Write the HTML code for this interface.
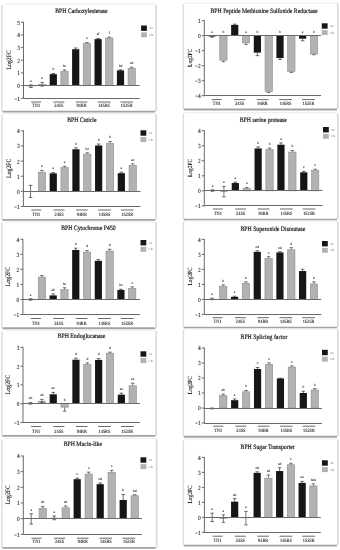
<!DOCTYPE html>
<html><head><meta charset="utf-8"><title>BPH gene expression</title>
<style>text{stroke:#1a1a1a;stroke-width:0.1}text.t{stroke-width:0.2}text.g{fill:#555;stroke:none}text.l{fill:#3a3a3a;stroke:#3a3a3a;stroke-width:0.08}html,body{margin:0;padding:0;background:#fff;width:340px;height:550px;overflow:hidden}svg{display:block}text{text-rendering:geometricPrecision}</style>
</head><body>
<svg width="340" height="550" viewBox="0 0 340 550" font-family="'Liberation Serif', 'DejaVu Serif', serif" fill="#1a1a1a">
<rect width="340" height="550" fill="#fff"/>
<rect x="1.9" y="4.2" width="154.3" height="107.4" fill="#fff"/>
<line x1="1.9" y1="5.2" x2="1.9" y2="111.1" stroke="#e0e0e0" stroke-width="1.6"/>
<line x1="3.4" y1="4.2" x2="155.2" y2="4.2" stroke="#efefef" stroke-width="1.3"/>
<line x1="156.2" y1="4.7" x2="156.2" y2="111.1" stroke="#d8d8d8" stroke-width="1.6"/>
<line x1="2.4" y1="111.6" x2="155.4" y2="111.6" stroke="#a3a3a3" stroke-width="1.9"/>
<line x1="23.5" y1="21.8" x2="23.5" y2="98.7" stroke="#6a6a6a" stroke-width="1"/>
<line x1="20.9" y1="98.2" x2="23.5" y2="98.2" stroke="#6a6a6a" stroke-width="1"/>
<text transform="translate(19.9,100.65) scale(0.8696,1)" font-size="6.21" text-anchor="end">−1</text>
<line x1="20.9" y1="85.55" x2="23.5" y2="85.55" stroke="#6a6a6a" stroke-width="1"/>
<text transform="translate(19.9,88) scale(0.8696,1)" font-size="6.21" text-anchor="end">0</text>
<line x1="20.9" y1="72.9" x2="23.5" y2="72.9" stroke="#6a6a6a" stroke-width="1"/>
<text transform="translate(19.9,75.35) scale(0.8696,1)" font-size="6.21" text-anchor="end">1</text>
<line x1="20.9" y1="60.25" x2="23.5" y2="60.25" stroke="#6a6a6a" stroke-width="1"/>
<text transform="translate(19.9,62.7) scale(0.8696,1)" font-size="6.21" text-anchor="end">2</text>
<line x1="20.9" y1="47.6" x2="23.5" y2="47.6" stroke="#6a6a6a" stroke-width="1"/>
<text transform="translate(19.9,50.05) scale(0.8696,1)" font-size="6.21" text-anchor="end">3</text>
<line x1="20.9" y1="34.95" x2="23.5" y2="34.95" stroke="#6a6a6a" stroke-width="1"/>
<text transform="translate(19.9,37.4) scale(0.8696,1)" font-size="6.21" text-anchor="end">4</text>
<line x1="20.9" y1="22.3" x2="23.5" y2="22.3" stroke="#6a6a6a" stroke-width="1"/>
<text transform="translate(19.9,24.75) scale(0.8696,1)" font-size="6.21" text-anchor="end">5</text>
<text transform="translate(10.6,59.85) rotate(-90) scale(0.8696,1)" font-size="6.73" text-anchor="middle">Log2FC</text>
<line x1="23.5" y1="98.5" x2="139.6" y2="98.5" stroke="#6a6a6a" stroke-width="1"/>
<rect x="27.3" y="85.55" width="7.2" height="0.63" fill="#161616"/>
<line x1="30.9" y1="84.92" x2="30.9" y2="87.45" stroke="#111" stroke-width="0.6"/>
<line x1="29.1" y1="87.45" x2="32.7" y2="87.45" stroke="#111" stroke-width="0.6"/>
<line x1="29.1" y1="84.92" x2="32.7" y2="84.92" stroke="#111" stroke-width="0.6"/>
<text x="30.9" y="81.82" font-size="3.7" text-anchor="middle" class="l">a</text>
<rect x="38.45" y="84.58" width="7.3" height="0.97" fill="#b2b2b2" stroke="#8c8c8c" stroke-width="0.6"/>
<line x1="42.1" y1="82.39" x2="42.1" y2="86.18" stroke="#222" stroke-width="0.6"/>
<line x1="40.3" y1="82.39" x2="43.9" y2="82.39" stroke="#222" stroke-width="0.6"/>
<line x1="40.3" y1="86.18" x2="43.9" y2="86.18" stroke="#222" stroke-width="0.6"/>
<text x="42.1" y="79.29" font-size="3.7" text-anchor="middle" class="l">a</text>
<rect x="49.7" y="74.16" width="7.2" height="11.39" fill="#161616"/>
<line x1="53.3" y1="73.53" x2="53.3" y2="74.16" stroke="#111" stroke-width="0.6"/>
<line x1="51.5" y1="73.53" x2="55.1" y2="73.53" stroke="#111" stroke-width="0.6"/>
<text x="53.3" y="70.43" font-size="3.7" text-anchor="middle" class="l">b</text>
<rect x="60.85" y="71.18" width="7.3" height="14.37" fill="#b2b2b2" stroke="#8c8c8c" stroke-width="0.6"/>
<line x1="64.5" y1="69.86" x2="64.5" y2="70.88" stroke="#222" stroke-width="0.6"/>
<line x1="62.7" y1="69.86" x2="66.3" y2="69.86" stroke="#222" stroke-width="0.6"/>
<text x="64.5" y="66.76" font-size="3.7" text-anchor="middle" class="l">bc</text>
<rect x="72.1" y="49.24" width="7.2" height="36.31" fill="#161616"/>
<line x1="75.7" y1="47.98" x2="75.7" y2="49.24" stroke="#111" stroke-width="0.6"/>
<line x1="73.9" y1="47.98" x2="77.5" y2="47.98" stroke="#111" stroke-width="0.6"/>
<rect x="83.25" y="43.47" width="7.3" height="42.08" fill="#b2b2b2" stroke="#8c8c8c" stroke-width="0.6"/>
<line x1="86.9" y1="42.54" x2="86.9" y2="43.17" stroke="#222" stroke-width="0.6"/>
<line x1="85.1" y1="42.54" x2="88.7" y2="42.54" stroke="#222" stroke-width="0.6"/>
<text x="86.9" y="39.44" font-size="3.7" text-anchor="middle" class="l">e</text>
<rect x="94.5" y="39.12" width="7.2" height="46.43" fill="#161616"/>
<line x1="98.1" y1="38.49" x2="98.1" y2="39.12" stroke="#111" stroke-width="0.6"/>
<line x1="96.3" y1="38.49" x2="99.9" y2="38.49" stroke="#111" stroke-width="0.6"/>
<text x="98.1" y="35.39" font-size="3.7" text-anchor="middle" class="l">ef</text>
<rect x="105.65" y="38.03" width="7.3" height="47.52" fill="#b2b2b2" stroke="#8c8c8c" stroke-width="0.6"/>
<line x1="109.3" y1="37.1" x2="109.3" y2="37.73" stroke="#222" stroke-width="0.6"/>
<line x1="107.5" y1="37.1" x2="111.1" y2="37.1" stroke="#222" stroke-width="0.6"/>
<text x="109.3" y="34" font-size="3.7" text-anchor="middle" class="l">f</text>
<rect x="116.9" y="70.37" width="7.2" height="15.18" fill="#161616"/>
<line x1="120.5" y1="69.74" x2="120.5" y2="70.37" stroke="#111" stroke-width="0.6"/>
<line x1="118.7" y1="69.74" x2="122.3" y2="69.74" stroke="#111" stroke-width="0.6"/>
<text x="120.5" y="66.64" font-size="3.7" text-anchor="middle" class="l">bd</text>
<rect x="128.05" y="68.27" width="7.3" height="17.28" fill="#b2b2b2" stroke="#8c8c8c" stroke-width="0.6"/>
<line x1="131.7" y1="67.21" x2="131.7" y2="67.97" stroke="#222" stroke-width="0.6"/>
<line x1="129.9" y1="67.21" x2="133.5" y2="67.21" stroke="#222" stroke-width="0.6"/>
<text x="131.7" y="64.11" font-size="3.7" text-anchor="middle" class="l">cd</text>
<line x1="23.5" y1="85.5" x2="139.6" y2="85.5" stroke="#6a6a6a" stroke-width="1"/>
<line x1="31.2" y1="102" x2="41.2" y2="102" stroke="#3a3a3a" stroke-width="0.75"/>
<text transform="translate(36.2,106.8) scale(0.8696,1)" font-size="5" text-anchor="middle">TN1</text>
<line x1="53.34" y1="102" x2="64.34" y2="102" stroke="#3a3a3a" stroke-width="0.75"/>
<text transform="translate(58.84,106.8) scale(0.8696,1)" font-size="5" text-anchor="middle">24SS</text>
<line x1="75.68" y1="102" x2="87.28" y2="102" stroke="#3a3a3a" stroke-width="0.75"/>
<text transform="translate(81.48,106.8) scale(0.8696,1)" font-size="5" text-anchor="middle">94RR</text>
<line x1="97.72" y1="102" x2="110.52" y2="102" stroke="#3a3a3a" stroke-width="0.75"/>
<text transform="translate(104.12,106.8) scale(0.8696,1)" font-size="5" text-anchor="middle">145RS</text>
<line x1="120.36" y1="102" x2="133.16" y2="102" stroke="#3a3a3a" stroke-width="0.75"/>
<text transform="translate(126.76,106.8) scale(0.8696,1)" font-size="5" text-anchor="middle">152SR</text>
<rect x="141.1" y="25.5" width="5.8" height="5.4" fill="#161616"/>
<rect x="141.1" y="32.3" width="5.8" height="5" fill="#b2b2b2"/>
<text x="149.1" y="29.2" font-size="3.2" class="g">As</text>
<text x="149.1" y="35.7" font-size="3.2" class="g">Cls</text>
<text transform="translate(55.15,12.5) scale(0.8696,1)" font-size="6.65" class="t">BPH Carboxylesterase</text>
<rect x="183.3" y="3.1" width="154.5" height="106.4" fill="#fff"/>
<line x1="183.3" y1="4.1" x2="183.3" y2="109" stroke="#e0e0e0" stroke-width="1.6"/>
<line x1="184.8" y1="3.1" x2="336.8" y2="3.1" stroke="#efefef" stroke-width="1.3"/>
<line x1="337.8" y1="3.6" x2="337.8" y2="109" stroke="#d8d8d8" stroke-width="1.6"/>
<line x1="183.8" y1="109.5" x2="337" y2="109.5" stroke="#a3a3a3" stroke-width="1.9"/>
<line x1="204.3" y1="20.2" x2="204.3" y2="96.2" stroke="#6a6a6a" stroke-width="1"/>
<line x1="201.7" y1="95.7" x2="204.3" y2="95.7" stroke="#6a6a6a" stroke-width="1"/>
<text transform="translate(200.7,98.15) scale(0.8696,1)" font-size="6.21" text-anchor="end">−4</text>
<line x1="201.7" y1="80.7" x2="204.3" y2="80.7" stroke="#6a6a6a" stroke-width="1"/>
<text transform="translate(200.7,83.15) scale(0.8696,1)" font-size="6.21" text-anchor="end">−3</text>
<line x1="201.7" y1="65.7" x2="204.3" y2="65.7" stroke="#6a6a6a" stroke-width="1"/>
<text transform="translate(200.7,68.15) scale(0.8696,1)" font-size="6.21" text-anchor="end">−2</text>
<line x1="201.7" y1="50.7" x2="204.3" y2="50.7" stroke="#6a6a6a" stroke-width="1"/>
<text transform="translate(200.7,53.15) scale(0.8696,1)" font-size="6.21" text-anchor="end">−1</text>
<line x1="201.7" y1="35.7" x2="204.3" y2="35.7" stroke="#6a6a6a" stroke-width="1"/>
<text transform="translate(200.7,38.15) scale(0.8696,1)" font-size="6.21" text-anchor="end">0</text>
<line x1="201.7" y1="20.7" x2="204.3" y2="20.7" stroke="#6a6a6a" stroke-width="1"/>
<text transform="translate(200.7,23.15) scale(0.8696,1)" font-size="6.21" text-anchor="end">1</text>
<text transform="translate(192.2,57.8) rotate(-90) scale(0.8696,1)" font-size="6.27" text-anchor="middle">Log2FC</text>
<line x1="204.3" y1="95.5" x2="321" y2="95.5" stroke="#6a6a6a" stroke-width="1"/>
<rect x="208.5" y="35.7" width="7.2" height="0.75" fill="#161616"/>
<line x1="212.1" y1="35.7" x2="212.1" y2="37.2" stroke="#111" stroke-width="0.6"/>
<line x1="210.3" y1="37.2" x2="213.9" y2="37.2" stroke="#111" stroke-width="0.6"/>
<line x1="210.3" y1="35.7" x2="213.9" y2="35.7" stroke="#111" stroke-width="0.6"/>
<text x="212.1" y="32.6" font-size="3.7" text-anchor="middle" class="l">a</text>
<rect x="219.77" y="35.7" width="7.3" height="24.45" fill="#b2b2b2" stroke="#8c8c8c" stroke-width="0.6"/>
<line x1="223.42" y1="60.45" x2="223.42" y2="61.65" stroke="#222" stroke-width="0.6"/>
<line x1="221.62" y1="61.65" x2="225.22" y2="61.65" stroke="#222" stroke-width="0.6"/>
<text x="223.42" y="32.6" font-size="3.7" text-anchor="middle" class="l">b</text>
<rect x="231.14" y="24.9" width="7.2" height="10.8" fill="#161616"/>
<line x1="234.74" y1="24.15" x2="234.74" y2="24.9" stroke="#111" stroke-width="0.6"/>
<line x1="232.94" y1="24.15" x2="236.54" y2="24.15" stroke="#111" stroke-width="0.6"/>
<rect x="242.41" y="35.7" width="7.3" height="7.2" fill="#b2b2b2" stroke="#8c8c8c" stroke-width="0.6"/>
<line x1="246.06" y1="43.2" x2="246.06" y2="44.4" stroke="#222" stroke-width="0.6"/>
<line x1="244.26" y1="44.4" x2="247.86" y2="44.4" stroke="#222" stroke-width="0.6"/>
<text x="246.06" y="32.6" font-size="3.7" text-anchor="middle" class="l">a</text>
<rect x="253.78" y="35.7" width="7.2" height="16.95" fill="#161616"/>
<line x1="257.38" y1="52.65" x2="257.38" y2="55.65" stroke="#111" stroke-width="0.6"/>
<line x1="255.58" y1="55.65" x2="259.18" y2="55.65" stroke="#111" stroke-width="0.6"/>
<text x="257.38" y="32.6" font-size="3.7" text-anchor="middle" class="l">b</text>
<rect x="265.05" y="35.7" width="7.3" height="55.8" fill="#b2b2b2" stroke="#8c8c8c" stroke-width="0.6"/>
<line x1="268.7" y1="91.8" x2="268.7" y2="92.55" stroke="#222" stroke-width="0.6"/>
<line x1="266.9" y1="92.55" x2="270.5" y2="92.55" stroke="#222" stroke-width="0.6"/>
<rect x="276.42" y="35.7" width="7.2" height="22.35" fill="#161616"/>
<line x1="280.02" y1="58.05" x2="280.02" y2="59.55" stroke="#111" stroke-width="0.6"/>
<line x1="278.22" y1="59.55" x2="281.82" y2="59.55" stroke="#111" stroke-width="0.6"/>
<text x="280.02" y="32.6" font-size="3.7" text-anchor="middle" class="l">b</text>
<rect x="287.69" y="35.7" width="7.3" height="35.7" fill="#b2b2b2" stroke="#8c8c8c" stroke-width="0.6"/>
<line x1="291.34" y1="71.7" x2="291.34" y2="72.45" stroke="#222" stroke-width="0.6"/>
<line x1="289.54" y1="72.45" x2="293.14" y2="72.45" stroke="#222" stroke-width="0.6"/>
<rect x="299.06" y="35.7" width="7.2" height="3" fill="#161616"/>
<line x1="302.66" y1="38.7" x2="302.66" y2="40.8" stroke="#111" stroke-width="0.6"/>
<line x1="300.86" y1="40.8" x2="304.46" y2="40.8" stroke="#111" stroke-width="0.6"/>
<text x="302.66" y="32.6" font-size="3.7" text-anchor="middle" class="l">a</text>
<rect x="310.33" y="35.7" width="7.3" height="18.3" fill="#b2b2b2" stroke="#8c8c8c" stroke-width="0.6"/>
<line x1="313.98" y1="54.3" x2="313.98" y2="54.75" stroke="#222" stroke-width="0.6"/>
<line x1="312.18" y1="54.75" x2="315.78" y2="54.75" stroke="#222" stroke-width="0.6"/>
<text x="313.98" y="32.6" font-size="3.7" text-anchor="middle" class="l">b</text>
<line x1="204.3" y1="35.5" x2="321" y2="35.5" stroke="#6a6a6a" stroke-width="1"/>
<line x1="211.75" y1="99.6" x2="221.75" y2="99.6" stroke="#3a3a3a" stroke-width="0.75"/>
<text transform="translate(216.75,105.2) scale(0.8696,1)" font-size="5" text-anchor="middle">TN1</text>
<line x1="234.19" y1="99.6" x2="245.19" y2="99.6" stroke="#3a3a3a" stroke-width="0.75"/>
<text transform="translate(239.69,105.2) scale(0.8696,1)" font-size="5" text-anchor="middle">24SS</text>
<line x1="256.83" y1="99.6" x2="268.43" y2="99.6" stroke="#3a3a3a" stroke-width="0.75"/>
<text transform="translate(262.63,105.2) scale(0.8696,1)" font-size="5" text-anchor="middle">94RR</text>
<line x1="279.17" y1="99.6" x2="291.97" y2="99.6" stroke="#3a3a3a" stroke-width="0.75"/>
<text transform="translate(285.57,105.2) scale(0.8696,1)" font-size="5" text-anchor="middle">145RS</text>
<line x1="302.11" y1="99.6" x2="314.91" y2="99.6" stroke="#3a3a3a" stroke-width="0.75"/>
<text transform="translate(308.51,105.2) scale(0.8696,1)" font-size="5" text-anchor="middle">152SR</text>
<rect x="321.8" y="23.3" width="5.8" height="5.4" fill="#161616"/>
<rect x="321.8" y="30.1" width="5.8" height="5" fill="#b2b2b2"/>
<text x="329.8" y="27" font-size="3.2" class="g">As</text>
<text x="329.8" y="33.5" font-size="3.2" class="g">Cls</text>
<text transform="translate(210.45,12.8) scale(0.8696,1)" font-size="6.65" class="t">BPH Peptide Methionine Sulfoxide Reductase</text>
<rect x="1.9" y="113.6" width="154.3" height="106.3" fill="#fff"/>
<line x1="1.9" y1="114.6" x2="1.9" y2="219.4" stroke="#e0e0e0" stroke-width="1.6"/>
<line x1="3.4" y1="113.6" x2="155.2" y2="113.6" stroke="#efefef" stroke-width="1.3"/>
<line x1="156.2" y1="114.1" x2="156.2" y2="219.4" stroke="#d8d8d8" stroke-width="1.6"/>
<line x1="2.4" y1="219.9" x2="155.4" y2="219.9" stroke="#a3a3a3" stroke-width="1.9"/>
<line x1="23.4" y1="130.3" x2="23.4" y2="207" stroke="#6a6a6a" stroke-width="1"/>
<line x1="20.8" y1="206.5" x2="23.4" y2="206.5" stroke="#6a6a6a" stroke-width="1"/>
<text transform="translate(19.8,208.95) scale(0.8696,1)" font-size="6.21" text-anchor="end">−1</text>
<line x1="20.8" y1="191.36" x2="23.4" y2="191.36" stroke="#6a6a6a" stroke-width="1"/>
<text transform="translate(19.8,193.81) scale(0.8696,1)" font-size="6.21" text-anchor="end">0</text>
<line x1="20.8" y1="176.22" x2="23.4" y2="176.22" stroke="#6a6a6a" stroke-width="1"/>
<text transform="translate(19.8,178.67) scale(0.8696,1)" font-size="6.21" text-anchor="end">1</text>
<line x1="20.8" y1="161.08" x2="23.4" y2="161.08" stroke="#6a6a6a" stroke-width="1"/>
<text transform="translate(19.8,163.53) scale(0.8696,1)" font-size="6.21" text-anchor="end">2</text>
<line x1="20.8" y1="145.94" x2="23.4" y2="145.94" stroke="#6a6a6a" stroke-width="1"/>
<text transform="translate(19.8,148.39) scale(0.8696,1)" font-size="6.21" text-anchor="end">3</text>
<line x1="20.8" y1="130.8" x2="23.4" y2="130.8" stroke="#6a6a6a" stroke-width="1"/>
<text transform="translate(19.8,133.25) scale(0.8696,1)" font-size="6.21" text-anchor="end">4</text>
<text transform="translate(10.5,168.25) rotate(-90) scale(0.8696,1)" font-size="6.73" text-anchor="middle">Log2FC</text>
<line x1="23.4" y1="206.5" x2="140.5" y2="206.5" stroke="#6a6a6a" stroke-width="1"/>
<rect x="26.95" y="191.36" width="7.2" height="0.01" fill="#161616"/>
<line x1="30.55" y1="185.3" x2="30.55" y2="197.42" stroke="#111" stroke-width="0.6"/>
<line x1="28.75" y1="185.3" x2="32.35" y2="185.3" stroke="#111" stroke-width="0.6"/>
<line x1="28.75" y1="197.42" x2="32.35" y2="197.42" stroke="#111" stroke-width="0.6"/>
<rect x="38.25" y="172.13" width="7.3" height="19.23" fill="#b2b2b2" stroke="#8c8c8c" stroke-width="0.6"/>
<line x1="41.9" y1="170.32" x2="41.9" y2="171.83" stroke="#222" stroke-width="0.6"/>
<line x1="40.1" y1="170.32" x2="43.7" y2="170.32" stroke="#222" stroke-width="0.6"/>
<text x="41.9" y="167.22" font-size="3.7" text-anchor="middle" class="l">a</text>
<rect x="49.65" y="173.34" width="7.2" height="18.02" fill="#161616"/>
<line x1="53.25" y1="172.59" x2="53.25" y2="173.34" stroke="#111" stroke-width="0.6"/>
<line x1="51.45" y1="172.59" x2="55.05" y2="172.59" stroke="#111" stroke-width="0.6"/>
<text x="53.25" y="169.49" font-size="3.7" text-anchor="middle" class="l">a</text>
<rect x="60.95" y="167.59" width="7.3" height="23.77" fill="#b2b2b2" stroke="#8c8c8c" stroke-width="0.6"/>
<line x1="64.6" y1="166.38" x2="64.6" y2="167.29" stroke="#222" stroke-width="0.6"/>
<line x1="62.8" y1="166.38" x2="66.4" y2="166.38" stroke="#222" stroke-width="0.6"/>
<text x="64.6" y="163.28" font-size="3.7" text-anchor="middle" class="l">a</text>
<rect x="72.35" y="149.27" width="7.2" height="42.09" fill="#161616"/>
<line x1="75.95" y1="147.76" x2="75.95" y2="149.27" stroke="#111" stroke-width="0.6"/>
<line x1="74.15" y1="147.76" x2="77.75" y2="147.76" stroke="#111" stroke-width="0.6"/>
<text x="75.95" y="144.66" font-size="3.7" text-anchor="middle" class="l">b</text>
<rect x="83.65" y="154.11" width="7.3" height="37.25" fill="#b2b2b2" stroke="#8c8c8c" stroke-width="0.6"/>
<line x1="87.3" y1="152.75" x2="87.3" y2="153.81" stroke="#222" stroke-width="0.6"/>
<line x1="85.5" y1="152.75" x2="89.1" y2="152.75" stroke="#222" stroke-width="0.6"/>
<text x="87.3" y="149.65" font-size="3.7" text-anchor="middle" class="l">bc</text>
<rect x="95.05" y="145.49" width="7.2" height="45.87" fill="#161616"/>
<line x1="98.65" y1="143.97" x2="98.65" y2="145.49" stroke="#111" stroke-width="0.6"/>
<line x1="96.85" y1="143.97" x2="100.45" y2="143.97" stroke="#111" stroke-width="0.6"/>
<text x="98.65" y="140.87" font-size="3.7" text-anchor="middle" class="l">b</text>
<rect x="106.35" y="143.36" width="7.3" height="48" fill="#b2b2b2" stroke="#8c8c8c" stroke-width="0.6"/>
<line x1="110" y1="141.55" x2="110" y2="143.06" stroke="#222" stroke-width="0.6"/>
<line x1="108.2" y1="141.55" x2="111.8" y2="141.55" stroke="#222" stroke-width="0.6"/>
<text x="110" y="138.45" font-size="3.7" text-anchor="middle" class="l">b</text>
<rect x="117.75" y="173.19" width="7.2" height="18.17" fill="#161616"/>
<line x1="121.35" y1="172.13" x2="121.35" y2="173.19" stroke="#111" stroke-width="0.6"/>
<line x1="119.55" y1="172.13" x2="123.15" y2="172.13" stroke="#111" stroke-width="0.6"/>
<text x="121.35" y="169.03" font-size="3.7" text-anchor="middle" class="l">a</text>
<rect x="129.05" y="165.32" width="7.3" height="26.04" fill="#b2b2b2" stroke="#8c8c8c" stroke-width="0.6"/>
<line x1="132.7" y1="163.81" x2="132.7" y2="165.02" stroke="#222" stroke-width="0.6"/>
<line x1="130.9" y1="163.81" x2="134.5" y2="163.81" stroke="#222" stroke-width="0.6"/>
<text x="132.7" y="160.71" font-size="3.7" text-anchor="middle" class="l">ac</text>
<line x1="23.4" y1="191.5" x2="140.5" y2="191.5" stroke="#6a6a6a" stroke-width="1"/>
<line x1="31.3" y1="210" x2="41.3" y2="210" stroke="#3a3a3a" stroke-width="0.75"/>
<text transform="translate(36.3,215.8) scale(0.8696,1)" font-size="5" text-anchor="middle">TN1</text>
<line x1="53.55" y1="210" x2="64.55" y2="210" stroke="#3a3a3a" stroke-width="0.75"/>
<text transform="translate(59.05,215.8) scale(0.8696,1)" font-size="5" text-anchor="middle">24SS</text>
<line x1="76" y1="210" x2="87.6" y2="210" stroke="#3a3a3a" stroke-width="0.75"/>
<text transform="translate(81.8,215.8) scale(0.8696,1)" font-size="5" text-anchor="middle">94RR</text>
<line x1="98.15" y1="210" x2="110.95" y2="210" stroke="#3a3a3a" stroke-width="0.75"/>
<text transform="translate(104.55,215.8) scale(0.8696,1)" font-size="5" text-anchor="middle">145RS</text>
<line x1="120.9" y1="210" x2="133.7" y2="210" stroke="#3a3a3a" stroke-width="0.75"/>
<text transform="translate(127.3,215.8) scale(0.8696,1)" font-size="5" text-anchor="middle">152SR</text>
<rect x="140.5" y="130.3" width="5.8" height="5.4" fill="#161616"/>
<rect x="140.5" y="137.1" width="5.8" height="5" fill="#b2b2b2"/>
<text x="148.5" y="134" font-size="3.2" class="g">As</text>
<text x="148.5" y="140.5" font-size="3.2" class="g">Cls</text>
<text transform="translate(67.15,121.6) scale(0.8696,1)" font-size="6.65" class="t">BPH Cuticle</text>
<rect x="183.3" y="112.6" width="154.5" height="107.1" fill="#fff"/>
<line x1="183.3" y1="113.6" x2="183.3" y2="219.2" stroke="#e0e0e0" stroke-width="1.6"/>
<line x1="184.8" y1="112.6" x2="336.8" y2="112.6" stroke="#efefef" stroke-width="1.3"/>
<line x1="337.8" y1="113.1" x2="337.8" y2="219.2" stroke="#d8d8d8" stroke-width="1.6"/>
<line x1="183.8" y1="219.7" x2="337" y2="219.7" stroke="#a3a3a3" stroke-width="1.9"/>
<line x1="204.3" y1="130.2" x2="204.3" y2="206.4" stroke="#6a6a6a" stroke-width="1"/>
<line x1="201.7" y1="205.9" x2="204.3" y2="205.9" stroke="#6a6a6a" stroke-width="1"/>
<text transform="translate(200.7,208.35) scale(0.8696,1)" font-size="6.21" text-anchor="end">−1</text>
<line x1="201.7" y1="190.86" x2="204.3" y2="190.86" stroke="#6a6a6a" stroke-width="1"/>
<text transform="translate(200.7,193.31) scale(0.8696,1)" font-size="6.21" text-anchor="end">0</text>
<line x1="201.7" y1="175.82" x2="204.3" y2="175.82" stroke="#6a6a6a" stroke-width="1"/>
<text transform="translate(200.7,178.27) scale(0.8696,1)" font-size="6.21" text-anchor="end">1</text>
<line x1="201.7" y1="160.78" x2="204.3" y2="160.78" stroke="#6a6a6a" stroke-width="1"/>
<text transform="translate(200.7,163.23) scale(0.8696,1)" font-size="6.21" text-anchor="end">2</text>
<line x1="201.7" y1="145.74" x2="204.3" y2="145.74" stroke="#6a6a6a" stroke-width="1"/>
<text transform="translate(200.7,148.19) scale(0.8696,1)" font-size="6.21" text-anchor="end">3</text>
<line x1="201.7" y1="130.7" x2="204.3" y2="130.7" stroke="#6a6a6a" stroke-width="1"/>
<text transform="translate(200.7,133.15) scale(0.8696,1)" font-size="6.21" text-anchor="end">4</text>
<text transform="translate(192.2,167.9) rotate(-90) scale(0.8696,1)" font-size="6.27" text-anchor="middle">Log2FC</text>
<line x1="204.3" y1="205.5" x2="322.5" y2="205.5" stroke="#6a6a6a" stroke-width="1"/>
<rect x="208.9" y="190.56" width="7.2" height="0.3" fill="#161616"/>
<line x1="212.5" y1="189.81" x2="212.5" y2="191.31" stroke="#111" stroke-width="0.6"/>
<line x1="210.7" y1="189.81" x2="214.3" y2="189.81" stroke="#111" stroke-width="0.6"/>
<line x1="210.7" y1="191.31" x2="214.3" y2="191.31" stroke="#111" stroke-width="0.6"/>
<text x="212.5" y="186.71" font-size="3.7" text-anchor="middle" class="l">a</text>
<rect x="220.26" y="190.86" width="7.3" height="0.45" fill="#b2b2b2" stroke="#8c8c8c" stroke-width="0.6"/>
<line x1="223.91" y1="186.35" x2="223.91" y2="196.88" stroke="#222" stroke-width="0.6"/>
<line x1="222.11" y1="196.88" x2="225.71" y2="196.88" stroke="#222" stroke-width="0.6"/>
<line x1="222.11" y1="186.35" x2="225.71" y2="186.35" stroke="#222" stroke-width="0.6"/>
<text x="223.91" y="183.25" font-size="3.7" text-anchor="middle" class="l">a</text>
<rect x="231.72" y="183.04" width="7.2" height="7.82" fill="#161616"/>
<line x1="235.32" y1="182.14" x2="235.32" y2="183.04" stroke="#111" stroke-width="0.6"/>
<line x1="233.52" y1="182.14" x2="237.12" y2="182.14" stroke="#111" stroke-width="0.6"/>
<text x="235.32" y="179.04" font-size="3.7" text-anchor="middle" class="l">a</text>
<rect x="243.08" y="188.6" width="7.3" height="2.26" fill="#b2b2b2" stroke="#8c8c8c" stroke-width="0.6"/>
<line x1="246.73" y1="187.55" x2="246.73" y2="188.3" stroke="#222" stroke-width="0.6"/>
<line x1="244.93" y1="187.55" x2="248.53" y2="187.55" stroke="#222" stroke-width="0.6"/>
<text x="246.73" y="184.45" font-size="3.7" text-anchor="middle" class="l">a</text>
<rect x="254.54" y="148.45" width="7.2" height="42.41" fill="#161616"/>
<line x1="258.14" y1="146.94" x2="258.14" y2="148.45" stroke="#111" stroke-width="0.6"/>
<line x1="256.34" y1="146.94" x2="259.94" y2="146.94" stroke="#111" stroke-width="0.6"/>
<text x="258.14" y="143.84" font-size="3.7" text-anchor="middle" class="l">b</text>
<rect x="265.9" y="149.5" width="7.3" height="41.36" fill="#b2b2b2" stroke="#8c8c8c" stroke-width="0.6"/>
<line x1="269.55" y1="148" x2="269.55" y2="149.2" stroke="#222" stroke-width="0.6"/>
<line x1="267.75" y1="148" x2="271.35" y2="148" stroke="#222" stroke-width="0.6"/>
<text x="269.55" y="144.9" font-size="3.7" text-anchor="middle" class="l">b</text>
<rect x="277.36" y="144.69" width="7.2" height="46.17" fill="#161616"/>
<line x1="280.96" y1="142.88" x2="280.96" y2="144.69" stroke="#111" stroke-width="0.6"/>
<line x1="279.16" y1="142.88" x2="282.76" y2="142.88" stroke="#111" stroke-width="0.6"/>
<text x="280.96" y="139.78" font-size="3.7" text-anchor="middle" class="l">a</text>
<rect x="288.72" y="152.06" width="7.3" height="38.8" fill="#b2b2b2" stroke="#8c8c8c" stroke-width="0.6"/>
<line x1="292.37" y1="150.55" x2="292.37" y2="151.76" stroke="#222" stroke-width="0.6"/>
<line x1="290.57" y1="150.55" x2="294.17" y2="150.55" stroke="#222" stroke-width="0.6"/>
<text x="292.37" y="147.45" font-size="3.7" text-anchor="middle" class="l">b</text>
<rect x="300.18" y="172.36" width="7.2" height="18.5" fill="#161616"/>
<line x1="303.78" y1="171.46" x2="303.78" y2="172.36" stroke="#111" stroke-width="0.6"/>
<line x1="301.98" y1="171.46" x2="305.58" y2="171.46" stroke="#111" stroke-width="0.6"/>
<text x="303.78" y="168.36" font-size="3.7" text-anchor="middle" class="l">c</text>
<rect x="311.54" y="170.25" width="7.3" height="20.61" fill="#b2b2b2" stroke="#8c8c8c" stroke-width="0.6"/>
<line x1="315.19" y1="169.2" x2="315.19" y2="169.95" stroke="#222" stroke-width="0.6"/>
<line x1="313.39" y1="169.2" x2="316.99" y2="169.2" stroke="#222" stroke-width="0.6"/>
<text x="315.19" y="166.1" font-size="3.7" text-anchor="middle" class="l">c</text>
<line x1="204.3" y1="190.5" x2="322.5" y2="190.5" stroke="#6a6a6a" stroke-width="1"/>
<line x1="212.9" y1="209" x2="222.9" y2="209" stroke="#3a3a3a" stroke-width="0.75"/>
<text transform="translate(217.9,214.5) scale(0.8696,1)" font-size="5" text-anchor="middle">TN1</text>
<line x1="235.2" y1="209" x2="246.2" y2="209" stroke="#3a3a3a" stroke-width="0.75"/>
<text transform="translate(240.7,214.5) scale(0.8696,1)" font-size="5" text-anchor="middle">24SS</text>
<line x1="257.7" y1="209" x2="269.3" y2="209" stroke="#3a3a3a" stroke-width="0.75"/>
<text transform="translate(263.5,214.5) scale(0.8696,1)" font-size="5" text-anchor="middle">94RR</text>
<line x1="279.9" y1="209" x2="292.7" y2="209" stroke="#3a3a3a" stroke-width="0.75"/>
<text transform="translate(286.3,214.5) scale(0.8696,1)" font-size="5" text-anchor="middle">145RS</text>
<line x1="302.7" y1="209" x2="315.5" y2="209" stroke="#3a3a3a" stroke-width="0.75"/>
<text transform="translate(309.1,214.5) scale(0.8696,1)" font-size="5" text-anchor="middle">152SR</text>
<rect x="323" y="127" width="5.8" height="5.4" fill="#161616"/>
<rect x="323" y="133.8" width="5.8" height="5" fill="#b2b2b2"/>
<text x="331" y="130.7" font-size="3.2" class="g">As</text>
<text x="331" y="137.2" font-size="3.2" class="g">Cls</text>
<text transform="translate(239.75,122) scale(0.8696,1)" font-size="6.65" class="t">BPH serine protease</text>
<rect x="1.9" y="221.8" width="154.3" height="106.5" fill="#fff"/>
<line x1="1.9" y1="222.8" x2="1.9" y2="327.8" stroke="#e0e0e0" stroke-width="1.6"/>
<line x1="3.4" y1="221.8" x2="155.2" y2="221.8" stroke="#efefef" stroke-width="1.3"/>
<line x1="156.2" y1="222.3" x2="156.2" y2="327.8" stroke="#d8d8d8" stroke-width="1.6"/>
<line x1="2.4" y1="328.3" x2="155.4" y2="328.3" stroke="#a3a3a3" stroke-width="1.9"/>
<line x1="22.9" y1="238.8" x2="22.9" y2="315" stroke="#6a6a6a" stroke-width="1"/>
<line x1="20.3" y1="314.5" x2="22.9" y2="314.5" stroke="#6a6a6a" stroke-width="1"/>
<text transform="translate(19.3,316.95) scale(0.8696,1)" font-size="6.21" text-anchor="end">−1</text>
<line x1="20.3" y1="299.46" x2="22.9" y2="299.46" stroke="#6a6a6a" stroke-width="1"/>
<text transform="translate(19.3,301.91) scale(0.8696,1)" font-size="6.21" text-anchor="end">0</text>
<line x1="20.3" y1="284.42" x2="22.9" y2="284.42" stroke="#6a6a6a" stroke-width="1"/>
<text transform="translate(19.3,286.87) scale(0.8696,1)" font-size="6.21" text-anchor="end">1</text>
<line x1="20.3" y1="269.38" x2="22.9" y2="269.38" stroke="#6a6a6a" stroke-width="1"/>
<text transform="translate(19.3,271.83) scale(0.8696,1)" font-size="6.21" text-anchor="end">2</text>
<line x1="20.3" y1="254.34" x2="22.9" y2="254.34" stroke="#6a6a6a" stroke-width="1"/>
<text transform="translate(19.3,256.79) scale(0.8696,1)" font-size="6.21" text-anchor="end">3</text>
<line x1="20.3" y1="239.3" x2="22.9" y2="239.3" stroke="#6a6a6a" stroke-width="1"/>
<text transform="translate(19.3,241.75) scale(0.8696,1)" font-size="6.21" text-anchor="end">4</text>
<text transform="translate(10,276.5) rotate(-90) scale(0.8696,1)" font-size="6.73" text-anchor="middle">Log2FC</text>
<line x1="22.9" y1="314.5" x2="140" y2="314.5" stroke="#6a6a6a" stroke-width="1"/>
<rect x="27" y="299.46" width="7.2" height="0.01" fill="#161616"/>
<line x1="30.6" y1="298.71" x2="30.6" y2="300.21" stroke="#111" stroke-width="0.6"/>
<line x1="28.8" y1="298.71" x2="32.4" y2="298.71" stroke="#111" stroke-width="0.6"/>
<line x1="28.8" y1="300.21" x2="32.4" y2="300.21" stroke="#111" stroke-width="0.6"/>
<text x="30.6" y="295.61" font-size="3.7" text-anchor="middle" class="l">a</text>
<rect x="38.24" y="277.05" width="7.3" height="22.41" fill="#b2b2b2" stroke="#8c8c8c" stroke-width="0.6"/>
<line x1="41.89" y1="275.55" x2="41.89" y2="276.75" stroke="#222" stroke-width="0.6"/>
<line x1="40.09" y1="275.55" x2="43.69" y2="275.55" stroke="#222" stroke-width="0.6"/>
<rect x="49.58" y="295.4" width="7.2" height="4.06" fill="#161616"/>
<line x1="53.18" y1="293.9" x2="53.18" y2="295.4" stroke="#111" stroke-width="0.6"/>
<line x1="51.38" y1="293.9" x2="54.98" y2="293.9" stroke="#111" stroke-width="0.6"/>
<text x="53.18" y="290.8" font-size="3.7" text-anchor="middle" class="l">ab</text>
<rect x="60.82" y="289.53" width="7.3" height="9.93" fill="#b2b2b2" stroke="#8c8c8c" stroke-width="0.6"/>
<line x1="64.47" y1="287.73" x2="64.47" y2="289.23" stroke="#222" stroke-width="0.6"/>
<line x1="62.67" y1="287.73" x2="66.27" y2="287.73" stroke="#222" stroke-width="0.6"/>
<text x="64.47" y="284.63" font-size="3.7" text-anchor="middle" class="l">bc</text>
<rect x="72.16" y="249.98" width="7.2" height="49.48" fill="#161616"/>
<line x1="75.76" y1="248.17" x2="75.76" y2="249.98" stroke="#111" stroke-width="0.6"/>
<line x1="73.96" y1="248.17" x2="77.56" y2="248.17" stroke="#111" stroke-width="0.6"/>
<text x="75.76" y="245.07" font-size="3.7" text-anchor="middle" class="l">d</text>
<rect x="83.4" y="252.08" width="7.3" height="47.38" fill="#b2b2b2" stroke="#8c8c8c" stroke-width="0.6"/>
<line x1="87.05" y1="250.58" x2="87.05" y2="251.78" stroke="#222" stroke-width="0.6"/>
<line x1="85.25" y1="250.58" x2="88.85" y2="250.58" stroke="#222" stroke-width="0.6"/>
<text x="87.05" y="247.48" font-size="3.7" text-anchor="middle" class="l">d</text>
<rect x="94.74" y="260.81" width="7.2" height="38.65" fill="#161616"/>
<line x1="98.34" y1="259.6" x2="98.34" y2="260.81" stroke="#111" stroke-width="0.6"/>
<line x1="96.54" y1="259.6" x2="100.14" y2="259.6" stroke="#111" stroke-width="0.6"/>
<rect x="105.98" y="251.03" width="7.3" height="48.43" fill="#b2b2b2" stroke="#8c8c8c" stroke-width="0.6"/>
<line x1="109.63" y1="249.23" x2="109.63" y2="250.73" stroke="#222" stroke-width="0.6"/>
<line x1="107.83" y1="249.23" x2="111.43" y2="249.23" stroke="#222" stroke-width="0.6"/>
<text x="109.63" y="246.13" font-size="3.7" text-anchor="middle" class="l">d</text>
<rect x="117.32" y="289.98" width="7.2" height="9.48" fill="#161616"/>
<line x1="120.92" y1="289.23" x2="120.92" y2="289.98" stroke="#111" stroke-width="0.6"/>
<line x1="119.12" y1="289.23" x2="122.72" y2="289.23" stroke="#111" stroke-width="0.6"/>
<text x="120.92" y="286.13" font-size="3.7" text-anchor="middle" class="l">bc</text>
<rect x="128.56" y="288.63" width="7.3" height="10.83" fill="#b2b2b2" stroke="#8c8c8c" stroke-width="0.6"/>
<line x1="132.21" y1="286.83" x2="132.21" y2="288.33" stroke="#222" stroke-width="0.6"/>
<line x1="130.41" y1="286.83" x2="134.01" y2="286.83" stroke="#222" stroke-width="0.6"/>
<text x="132.21" y="283.73" font-size="3.7" text-anchor="middle" class="l">c</text>
<line x1="22.9" y1="299.5" x2="140" y2="299.5" stroke="#6a6a6a" stroke-width="1"/>
<line x1="30.9" y1="318.5" x2="40.9" y2="318.5" stroke="#3a3a3a" stroke-width="0.75"/>
<text transform="translate(35.9,324.5) scale(0.8696,1)" font-size="5" text-anchor="middle">TN1</text>
<line x1="53.24" y1="318.5" x2="64.24" y2="318.5" stroke="#3a3a3a" stroke-width="0.75"/>
<text transform="translate(58.74,324.5) scale(0.8696,1)" font-size="5" text-anchor="middle">24SS</text>
<line x1="75.78" y1="318.5" x2="87.38" y2="318.5" stroke="#3a3a3a" stroke-width="0.75"/>
<text transform="translate(81.58,324.5) scale(0.8696,1)" font-size="5" text-anchor="middle">94RR</text>
<line x1="98.02" y1="318.5" x2="110.82" y2="318.5" stroke="#3a3a3a" stroke-width="0.75"/>
<text transform="translate(104.42,324.5) scale(0.8696,1)" font-size="5" text-anchor="middle">145RS</text>
<line x1="120.86" y1="318.5" x2="133.66" y2="318.5" stroke="#3a3a3a" stroke-width="0.75"/>
<text transform="translate(127.26,324.5) scale(0.8696,1)" font-size="5" text-anchor="middle">152SR</text>
<rect x="140.5" y="240" width="5.8" height="5.4" fill="#161616"/>
<rect x="140.5" y="246.8" width="5.8" height="5" fill="#b2b2b2"/>
<text x="148.5" y="243.7" font-size="3.2" class="g">As</text>
<text x="148.5" y="250.2" font-size="3.2" class="g">Cls</text>
<text transform="translate(61.15,230.4) scale(0.8696,1)" font-size="6.65" class="t">BPH Cytochrome P450</text>
<rect x="183.3" y="220.9" width="154.5" height="106.8" fill="#fff"/>
<line x1="183.3" y1="221.9" x2="183.3" y2="327.2" stroke="#e0e0e0" stroke-width="1.6"/>
<line x1="184.8" y1="220.9" x2="336.8" y2="220.9" stroke="#efefef" stroke-width="1.3"/>
<line x1="337.8" y1="221.4" x2="337.8" y2="327.2" stroke="#d8d8d8" stroke-width="1.6"/>
<line x1="183.8" y1="327.7" x2="337" y2="327.7" stroke="#a3a3a3" stroke-width="1.9"/>
<line x1="204.3" y1="238.9" x2="204.3" y2="314.9" stroke="#6a6a6a" stroke-width="1"/>
<line x1="201.7" y1="314.4" x2="204.3" y2="314.4" stroke="#6a6a6a" stroke-width="1"/>
<text transform="translate(200.7,316.85) scale(0.8696,1)" font-size="6.21" text-anchor="end">−1</text>
<line x1="201.7" y1="299.4" x2="204.3" y2="299.4" stroke="#6a6a6a" stroke-width="1"/>
<text transform="translate(200.7,301.85) scale(0.8696,1)" font-size="6.21" text-anchor="end">0</text>
<line x1="201.7" y1="284.4" x2="204.3" y2="284.4" stroke="#6a6a6a" stroke-width="1"/>
<text transform="translate(200.7,286.85) scale(0.8696,1)" font-size="6.21" text-anchor="end">1</text>
<line x1="201.7" y1="269.4" x2="204.3" y2="269.4" stroke="#6a6a6a" stroke-width="1"/>
<text transform="translate(200.7,271.85) scale(0.8696,1)" font-size="6.21" text-anchor="end">2</text>
<line x1="201.7" y1="254.4" x2="204.3" y2="254.4" stroke="#6a6a6a" stroke-width="1"/>
<text transform="translate(200.7,256.85) scale(0.8696,1)" font-size="6.21" text-anchor="end">3</text>
<line x1="201.7" y1="239.4" x2="204.3" y2="239.4" stroke="#6a6a6a" stroke-width="1"/>
<text transform="translate(200.7,241.85) scale(0.8696,1)" font-size="6.21" text-anchor="end">4</text>
<text transform="translate(192.2,276.5) rotate(-90) scale(0.8696,1)" font-size="6.27" text-anchor="middle">Log2FC</text>
<line x1="204.3" y1="314.5" x2="321.3" y2="314.5" stroke="#6a6a6a" stroke-width="1"/>
<rect x="208.3" y="298.95" width="7.2" height="0.45" fill="#161616"/>
<line x1="211.9" y1="298.2" x2="211.9" y2="299.7" stroke="#111" stroke-width="0.6"/>
<line x1="210.1" y1="298.2" x2="213.7" y2="298.2" stroke="#111" stroke-width="0.6"/>
<line x1="210.1" y1="299.7" x2="213.7" y2="299.7" stroke="#111" stroke-width="0.6"/>
<text x="211.9" y="295.1" font-size="3.7" text-anchor="middle" class="l">a</text>
<rect x="219.59" y="286.35" width="7.3" height="13.05" fill="#b2b2b2" stroke="#8c8c8c" stroke-width="0.6"/>
<line x1="223.24" y1="284.85" x2="223.24" y2="286.05" stroke="#222" stroke-width="0.6"/>
<line x1="221.44" y1="284.85" x2="225.04" y2="284.85" stroke="#222" stroke-width="0.6"/>
<text x="223.24" y="281.75" font-size="3.7" text-anchor="middle" class="l">b</text>
<rect x="230.98" y="296.85" width="7.2" height="2.55" fill="#161616"/>
<line x1="234.58" y1="296.25" x2="234.58" y2="296.85" stroke="#111" stroke-width="0.6"/>
<line x1="232.78" y1="296.25" x2="236.38" y2="296.25" stroke="#111" stroke-width="0.6"/>
<text x="234.58" y="293.15" font-size="3.7" text-anchor="middle" class="l">a</text>
<rect x="242.27" y="283.35" width="7.3" height="16.05" fill="#b2b2b2" stroke="#8c8c8c" stroke-width="0.6"/>
<line x1="245.92" y1="281.85" x2="245.92" y2="283.05" stroke="#222" stroke-width="0.6"/>
<line x1="244.12" y1="281.85" x2="247.72" y2="281.85" stroke="#222" stroke-width="0.6"/>
<text x="245.92" y="278.75" font-size="3.7" text-anchor="middle" class="l">b</text>
<rect x="253.66" y="251.85" width="7.2" height="47.55" fill="#161616"/>
<line x1="257.26" y1="250.8" x2="257.26" y2="251.85" stroke="#111" stroke-width="0.6"/>
<line x1="255.46" y1="250.8" x2="259.06" y2="250.8" stroke="#111" stroke-width="0.6"/>
<text x="257.26" y="247.7" font-size="3.7" text-anchor="middle" class="l">cd</text>
<rect x="264.95" y="258.45" width="7.3" height="40.95" fill="#b2b2b2" stroke="#8c8c8c" stroke-width="0.6"/>
<line x1="268.6" y1="256.65" x2="268.6" y2="258.15" stroke="#222" stroke-width="0.6"/>
<line x1="266.8" y1="256.65" x2="270.4" y2="256.65" stroke="#222" stroke-width="0.6"/>
<text x="268.6" y="253.55" font-size="3.7" text-anchor="middle" class="l">c</text>
<rect x="276.34" y="252.45" width="7.2" height="46.95" fill="#161616"/>
<line x1="279.94" y1="251.7" x2="279.94" y2="252.45" stroke="#111" stroke-width="0.6"/>
<line x1="278.14" y1="251.7" x2="281.74" y2="251.7" stroke="#111" stroke-width="0.6"/>
<text x="279.94" y="248.6" font-size="3.7" text-anchor="middle" class="l">cd</text>
<rect x="287.63" y="249.75" width="7.3" height="49.65" fill="#b2b2b2" stroke="#8c8c8c" stroke-width="0.6"/>
<line x1="291.28" y1="247.65" x2="291.28" y2="249.45" stroke="#222" stroke-width="0.6"/>
<line x1="289.48" y1="247.65" x2="293.08" y2="247.65" stroke="#222" stroke-width="0.6"/>
<text x="291.28" y="244.55" font-size="3.7" text-anchor="middle" class="l">d</text>
<rect x="299.02" y="271.05" width="7.2" height="28.35" fill="#161616"/>
<line x1="302.62" y1="269.25" x2="302.62" y2="271.05" stroke="#111" stroke-width="0.6"/>
<line x1="300.82" y1="269.25" x2="304.42" y2="269.25" stroke="#111" stroke-width="0.6"/>
<rect x="310.31" y="283.95" width="7.3" height="15.45" fill="#b2b2b2" stroke="#8c8c8c" stroke-width="0.6"/>
<line x1="313.96" y1="281.85" x2="313.96" y2="283.65" stroke="#222" stroke-width="0.6"/>
<line x1="312.16" y1="281.85" x2="315.76" y2="281.85" stroke="#222" stroke-width="0.6"/>
<text x="313.96" y="278.75" font-size="3.7" text-anchor="middle" class="l">b</text>
<line x1="204.3" y1="299.5" x2="321.3" y2="299.5" stroke="#6a6a6a" stroke-width="1"/>
<line x1="212.6" y1="317.7" x2="222.6" y2="317.7" stroke="#3a3a3a" stroke-width="0.75"/>
<text transform="translate(217.6,323) scale(0.8696,1)" font-size="5" text-anchor="middle">TN1</text>
<line x1="234.85" y1="317.7" x2="245.85" y2="317.7" stroke="#3a3a3a" stroke-width="0.75"/>
<text transform="translate(240.35,323) scale(0.8696,1)" font-size="5" text-anchor="middle">24SS</text>
<line x1="257.3" y1="317.7" x2="268.9" y2="317.7" stroke="#3a3a3a" stroke-width="0.75"/>
<text transform="translate(263.1,323) scale(0.8696,1)" font-size="5" text-anchor="middle">94RR</text>
<line x1="279.45" y1="317.7" x2="292.25" y2="317.7" stroke="#3a3a3a" stroke-width="0.75"/>
<text transform="translate(285.85,323) scale(0.8696,1)" font-size="5" text-anchor="middle">145RS</text>
<line x1="302.2" y1="317.7" x2="315" y2="317.7" stroke="#3a3a3a" stroke-width="0.75"/>
<text transform="translate(308.6,323) scale(0.8696,1)" font-size="5" text-anchor="middle">152SR</text>
<rect x="322" y="241" width="5.8" height="5.4" fill="#161616"/>
<rect x="322" y="247.8" width="5.8" height="5" fill="#b2b2b2"/>
<text x="330" y="244.7" font-size="3.2" class="g">As</text>
<text x="330" y="251.2" font-size="3.2" class="g">Cls</text>
<text transform="translate(240.45,230.9) scale(0.8696,1)" font-size="6.65" class="t">BPH Superoxide Dismutase</text>
<rect x="1.9" y="330.3" width="154.3" height="105.6" fill="#fff"/>
<line x1="1.9" y1="331.3" x2="1.9" y2="435.4" stroke="#e0e0e0" stroke-width="1.6"/>
<line x1="3.4" y1="330.3" x2="155.2" y2="330.3" stroke="#efefef" stroke-width="1.3"/>
<line x1="156.2" y1="330.8" x2="156.2" y2="435.4" stroke="#d8d8d8" stroke-width="1.6"/>
<line x1="2.4" y1="435.9" x2="155.4" y2="435.9" stroke="#a3a3a3" stroke-width="1.9"/>
<line x1="23" y1="346.8" x2="23" y2="423" stroke="#6a6a6a" stroke-width="1"/>
<line x1="20.4" y1="422.5" x2="23" y2="422.5" stroke="#6a6a6a" stroke-width="1"/>
<text transform="translate(19.4,424.95) scale(0.8696,1)" font-size="6.21" text-anchor="end">−1</text>
<line x1="20.4" y1="403.7" x2="23" y2="403.7" stroke="#6a6a6a" stroke-width="1"/>
<text transform="translate(19.4,406.15) scale(0.8696,1)" font-size="6.21" text-anchor="end">0</text>
<line x1="20.4" y1="384.9" x2="23" y2="384.9" stroke="#6a6a6a" stroke-width="1"/>
<text transform="translate(19.4,387.35) scale(0.8696,1)" font-size="6.21" text-anchor="end">1</text>
<line x1="20.4" y1="366.1" x2="23" y2="366.1" stroke="#6a6a6a" stroke-width="1"/>
<text transform="translate(19.4,368.55) scale(0.8696,1)" font-size="6.21" text-anchor="end">2</text>
<line x1="20.4" y1="347.3" x2="23" y2="347.3" stroke="#6a6a6a" stroke-width="1"/>
<text transform="translate(19.4,349.75) scale(0.8696,1)" font-size="6.21" text-anchor="end">3</text>
<text transform="translate(10.1,384.5) rotate(-90) scale(0.8696,1)" font-size="6.73" text-anchor="middle">Log2FC</text>
<line x1="23" y1="422.5" x2="140" y2="422.5" stroke="#6a6a6a" stroke-width="1"/>
<rect x="26.95" y="403.32" width="7.2" height="0.38" fill="#161616"/>
<line x1="30.55" y1="402.57" x2="30.55" y2="404.08" stroke="#111" stroke-width="0.6"/>
<line x1="28.75" y1="402.57" x2="32.35" y2="402.57" stroke="#111" stroke-width="0.6"/>
<line x1="28.75" y1="404.08" x2="32.35" y2="404.08" stroke="#111" stroke-width="0.6"/>
<text x="30.55" y="399.47" font-size="3.7" text-anchor="middle" class="l">ab</text>
<rect x="38.25" y="401.18" width="7.3" height="2.52" fill="#b2b2b2" stroke="#8c8c8c" stroke-width="0.6"/>
<line x1="41.9" y1="399.38" x2="41.9" y2="402.38" stroke="#222" stroke-width="0.6"/>
<line x1="40.1" y1="399.38" x2="43.7" y2="399.38" stroke="#222" stroke-width="0.6"/>
<line x1="40.1" y1="402.38" x2="43.7" y2="402.38" stroke="#222" stroke-width="0.6"/>
<text x="41.9" y="396.28" font-size="3.7" text-anchor="middle" class="l">ab</text>
<rect x="49.65" y="394.3" width="7.2" height="9.4" fill="#161616"/>
<line x1="53.25" y1="392.42" x2="53.25" y2="394.3" stroke="#111" stroke-width="0.6"/>
<line x1="51.45" y1="392.42" x2="55.05" y2="392.42" stroke="#111" stroke-width="0.6"/>
<text x="53.25" y="389.32" font-size="3.7" text-anchor="middle" class="l">ac</text>
<rect x="60.95" y="403.7" width="7.3" height="3.46" fill="#b2b2b2" stroke="#8c8c8c" stroke-width="0.6"/>
<line x1="64.6" y1="407.46" x2="64.6" y2="411.22" stroke="#222" stroke-width="0.6"/>
<line x1="62.8" y1="411.22" x2="66.4" y2="411.22" stroke="#222" stroke-width="0.6"/>
<text x="64.6" y="400.6" font-size="3.7" text-anchor="middle" class="l">b</text>
<rect x="72.35" y="359.71" width="7.2" height="43.99" fill="#161616"/>
<line x1="75.95" y1="358.2" x2="75.95" y2="359.71" stroke="#111" stroke-width="0.6"/>
<line x1="74.15" y1="358.2" x2="77.75" y2="358.2" stroke="#111" stroke-width="0.6"/>
<text x="75.95" y="355.1" font-size="3.7" text-anchor="middle" class="l">d</text>
<rect x="83.65" y="364.52" width="7.3" height="39.18" fill="#b2b2b2" stroke="#8c8c8c" stroke-width="0.6"/>
<line x1="87.3" y1="362.9" x2="87.3" y2="364.22" stroke="#222" stroke-width="0.6"/>
<line x1="85.5" y1="362.9" x2="89.1" y2="362.9" stroke="#222" stroke-width="0.6"/>
<text x="87.3" y="359.8" font-size="3.7" text-anchor="middle" class="l">d</text>
<rect x="95.05" y="359.9" width="7.2" height="43.8" fill="#161616"/>
<line x1="98.65" y1="358.58" x2="98.65" y2="359.9" stroke="#111" stroke-width="0.6"/>
<line x1="96.85" y1="358.58" x2="100.45" y2="358.58" stroke="#111" stroke-width="0.6"/>
<text x="98.65" y="355.48" font-size="3.7" text-anchor="middle" class="l">d</text>
<rect x="106.35" y="353.24" width="7.3" height="50.46" fill="#b2b2b2" stroke="#8c8c8c" stroke-width="0.6"/>
<line x1="110" y1="352.19" x2="110" y2="352.94" stroke="#222" stroke-width="0.6"/>
<line x1="108.2" y1="352.19" x2="111.8" y2="352.19" stroke="#222" stroke-width="0.6"/>
<text x="110" y="349.09" font-size="3.7" text-anchor="middle" class="l">d</text>
<rect x="117.75" y="394.68" width="7.2" height="9.02" fill="#161616"/>
<line x1="121.35" y1="393.17" x2="121.35" y2="394.68" stroke="#111" stroke-width="0.6"/>
<line x1="119.55" y1="393.17" x2="123.15" y2="393.17" stroke="#111" stroke-width="0.6"/>
<text x="121.35" y="390.07" font-size="3.7" text-anchor="middle" class="l">ac</text>
<rect x="129.05" y="385.76" width="7.3" height="17.94" fill="#b2b2b2" stroke="#8c8c8c" stroke-width="0.6"/>
<line x1="132.7" y1="383.21" x2="132.7" y2="385.46" stroke="#222" stroke-width="0.6"/>
<line x1="130.9" y1="383.21" x2="134.5" y2="383.21" stroke="#222" stroke-width="0.6"/>
<text x="132.7" y="380.11" font-size="3.7" text-anchor="middle" class="l">ac</text>
<line x1="23" y1="403.5" x2="140" y2="403.5" stroke="#6a6a6a" stroke-width="1"/>
<line x1="31.1" y1="426.5" x2="41.1" y2="426.5" stroke="#3a3a3a" stroke-width="0.75"/>
<text transform="translate(36.1,432.5) scale(0.8696,1)" font-size="5" text-anchor="middle">TN1</text>
<line x1="53.4" y1="426.5" x2="64.4" y2="426.5" stroke="#3a3a3a" stroke-width="0.75"/>
<text transform="translate(58.9,432.5) scale(0.8696,1)" font-size="5" text-anchor="middle">24SS</text>
<line x1="75.9" y1="426.5" x2="87.5" y2="426.5" stroke="#3a3a3a" stroke-width="0.75"/>
<text transform="translate(81.7,432.5) scale(0.8696,1)" font-size="5" text-anchor="middle">94RR</text>
<line x1="98.1" y1="426.5" x2="110.9" y2="426.5" stroke="#3a3a3a" stroke-width="0.75"/>
<text transform="translate(104.5,432.5) scale(0.8696,1)" font-size="5" text-anchor="middle">145RS</text>
<line x1="120.9" y1="426.5" x2="133.7" y2="426.5" stroke="#3a3a3a" stroke-width="0.75"/>
<text transform="translate(127.3,432.5) scale(0.8696,1)" font-size="5" text-anchor="middle">152SR</text>
<rect x="140.5" y="351.3" width="5.8" height="5.4" fill="#161616"/>
<rect x="140.5" y="358.1" width="5.8" height="5" fill="#b2b2b2"/>
<text x="148.5" y="355" font-size="3.2" class="g">As</text>
<text x="148.5" y="361.5" font-size="3.2" class="g">Cls</text>
<text transform="translate(57.65,338.4) scale(0.8696,1)" font-size="6.65" class="t">BPH Endoglucanase</text>
<rect x="183.3" y="328.8" width="154.5" height="108" fill="#fff"/>
<line x1="183.3" y1="329.8" x2="183.3" y2="436.3" stroke="#e0e0e0" stroke-width="1.6"/>
<line x1="184.8" y1="328.8" x2="336.8" y2="328.8" stroke="#efefef" stroke-width="1.3"/>
<line x1="337.8" y1="329.3" x2="337.8" y2="436.3" stroke="#d8d8d8" stroke-width="1.6"/>
<line x1="183.8" y1="436.8" x2="337" y2="436.8" stroke="#a3a3a3" stroke-width="1.9"/>
<line x1="204.3" y1="347.5" x2="204.3" y2="423.5" stroke="#6a6a6a" stroke-width="1"/>
<line x1="201.7" y1="423" x2="204.3" y2="423" stroke="#6a6a6a" stroke-width="1"/>
<text transform="translate(200.7,425.45) scale(0.8696,1)" font-size="6.21" text-anchor="end">−1</text>
<line x1="201.7" y1="408" x2="204.3" y2="408" stroke="#6a6a6a" stroke-width="1"/>
<text transform="translate(200.7,410.45) scale(0.8696,1)" font-size="6.21" text-anchor="end">0</text>
<line x1="201.7" y1="393" x2="204.3" y2="393" stroke="#6a6a6a" stroke-width="1"/>
<text transform="translate(200.7,395.45) scale(0.8696,1)" font-size="6.21" text-anchor="end">1</text>
<line x1="201.7" y1="378" x2="204.3" y2="378" stroke="#6a6a6a" stroke-width="1"/>
<text transform="translate(200.7,380.45) scale(0.8696,1)" font-size="6.21" text-anchor="end">2</text>
<line x1="201.7" y1="363" x2="204.3" y2="363" stroke="#6a6a6a" stroke-width="1"/>
<text transform="translate(200.7,365.45) scale(0.8696,1)" font-size="6.21" text-anchor="end">3</text>
<line x1="201.7" y1="348" x2="204.3" y2="348" stroke="#6a6a6a" stroke-width="1"/>
<text transform="translate(200.7,350.45) scale(0.8696,1)" font-size="6.21" text-anchor="end">4</text>
<text transform="translate(192.2,385.1) rotate(-90) scale(0.8696,1)" font-size="6.27" text-anchor="middle">Log2FC</text>
<line x1="204.3" y1="423.5" x2="322" y2="423.5" stroke="#6a6a6a" stroke-width="1"/>
<rect x="208.2" y="408" width="7.2" height="0.45" fill="#161616"/>
<line x1="211.8" y1="408" x2="211.8" y2="408.9" stroke="#111" stroke-width="0.6"/>
<line x1="210" y1="408.9" x2="213.6" y2="408.9" stroke="#111" stroke-width="0.6"/>
<line x1="210" y1="408" x2="213.6" y2="408" stroke="#111" stroke-width="0.6"/>
<rect x="219.59" y="395.55" width="7.3" height="12.45" fill="#b2b2b2" stroke="#8c8c8c" stroke-width="0.6"/>
<line x1="223.24" y1="394.05" x2="223.24" y2="395.25" stroke="#222" stroke-width="0.6"/>
<line x1="221.44" y1="394.05" x2="225.04" y2="394.05" stroke="#222" stroke-width="0.6"/>
<text x="223.24" y="390.95" font-size="3.7" text-anchor="middle" class="l">ab</text>
<rect x="231.08" y="400.2" width="7.2" height="7.8" fill="#161616"/>
<line x1="234.68" y1="399" x2="234.68" y2="400.2" stroke="#111" stroke-width="0.6"/>
<line x1="232.88" y1="399" x2="236.48" y2="399" stroke="#111" stroke-width="0.6"/>
<text x="234.68" y="395.9" font-size="3.7" text-anchor="middle" class="l">a</text>
<rect x="242.47" y="391.8" width="7.3" height="16.2" fill="#b2b2b2" stroke="#8c8c8c" stroke-width="0.6"/>
<line x1="246.12" y1="390.45" x2="246.12" y2="391.5" stroke="#222" stroke-width="0.6"/>
<line x1="244.32" y1="390.45" x2="247.92" y2="390.45" stroke="#222" stroke-width="0.6"/>
<text x="246.12" y="387.35" font-size="3.7" text-anchor="middle" class="l">b</text>
<rect x="253.96" y="369" width="7.2" height="39" fill="#161616"/>
<line x1="257.56" y1="367.5" x2="257.56" y2="369" stroke="#111" stroke-width="0.6"/>
<line x1="255.76" y1="367.5" x2="259.36" y2="367.5" stroke="#111" stroke-width="0.6"/>
<text x="257.56" y="364.4" font-size="3.7" text-anchor="middle" class="l">c</text>
<rect x="265.35" y="364.35" width="7.3" height="43.65" fill="#b2b2b2" stroke="#8c8c8c" stroke-width="0.6"/>
<line x1="269" y1="362.85" x2="269" y2="364.05" stroke="#222" stroke-width="0.6"/>
<line x1="267.2" y1="362.85" x2="270.8" y2="362.85" stroke="#222" stroke-width="0.6"/>
<text x="269" y="359.75" font-size="3.7" text-anchor="middle" class="l">c</text>
<rect x="276.84" y="378.45" width="7.2" height="29.55" fill="#161616"/>
<line x1="280.44" y1="378.15" x2="280.44" y2="378.45" stroke="#111" stroke-width="0.6"/>
<line x1="278.64" y1="378.15" x2="282.24" y2="378.15" stroke="#111" stroke-width="0.6"/>
<rect x="288.23" y="367.05" width="7.3" height="40.95" fill="#b2b2b2" stroke="#8c8c8c" stroke-width="0.6"/>
<line x1="291.88" y1="365.85" x2="291.88" y2="366.75" stroke="#222" stroke-width="0.6"/>
<line x1="290.08" y1="365.85" x2="293.68" y2="365.85" stroke="#222" stroke-width="0.6"/>
<text x="291.88" y="362.75" font-size="3.7" text-anchor="middle" class="l">c</text>
<rect x="299.72" y="393" width="7.2" height="15" fill="#161616"/>
<line x1="303.32" y1="391.2" x2="303.32" y2="393" stroke="#111" stroke-width="0.6"/>
<line x1="301.52" y1="391.2" x2="305.12" y2="391.2" stroke="#111" stroke-width="0.6"/>
<text x="303.32" y="388.1" font-size="3.7" text-anchor="middle" class="l">b</text>
<rect x="311.11" y="390" width="7.3" height="18" fill="#b2b2b2" stroke="#8c8c8c" stroke-width="0.6"/>
<line x1="314.76" y1="388.65" x2="314.76" y2="389.7" stroke="#222" stroke-width="0.6"/>
<line x1="312.96" y1="388.65" x2="316.56" y2="388.65" stroke="#222" stroke-width="0.6"/>
<text x="314.76" y="385.55" font-size="3.7" text-anchor="middle" class="l">b</text>
<line x1="204.3" y1="408.5" x2="322" y2="408.5" stroke="#6a6a6a" stroke-width="1"/>
<line x1="213.2" y1="426.2" x2="223.2" y2="426.2" stroke="#3a3a3a" stroke-width="0.75"/>
<text transform="translate(218.2,431.5) scale(0.8696,1)" font-size="5" text-anchor="middle">TN1</text>
<line x1="235.4" y1="426.2" x2="246.4" y2="426.2" stroke="#3a3a3a" stroke-width="0.75"/>
<text transform="translate(240.9,431.5) scale(0.8696,1)" font-size="5" text-anchor="middle">24SS</text>
<line x1="257.8" y1="426.2" x2="269.4" y2="426.2" stroke="#3a3a3a" stroke-width="0.75"/>
<text transform="translate(263.6,431.5) scale(0.8696,1)" font-size="5" text-anchor="middle">94RR</text>
<line x1="279.9" y1="426.2" x2="292.7" y2="426.2" stroke="#3a3a3a" stroke-width="0.75"/>
<text transform="translate(286.3,431.5) scale(0.8696,1)" font-size="5" text-anchor="middle">145RS</text>
<line x1="302.6" y1="426.2" x2="315.4" y2="426.2" stroke="#3a3a3a" stroke-width="0.75"/>
<text transform="translate(309,431.5) scale(0.8696,1)" font-size="5" text-anchor="middle">152SR</text>
<rect x="322" y="349.8" width="5.8" height="5.4" fill="#161616"/>
<rect x="322" y="356.6" width="5.8" height="5" fill="#b2b2b2"/>
<text x="330" y="353.5" font-size="3.2" class="g">As</text>
<text x="330" y="360" font-size="3.2" class="g">Cls</text>
<text transform="translate(240.55,338.8) scale(0.8696,1)" font-size="6.65" class="t">BPH Splicing factor</text>
<rect x="1.9" y="438.4" width="154.7" height="109.5" fill="#fff"/>
<line x1="1.9" y1="439.4" x2="1.9" y2="547.4" stroke="#e0e0e0" stroke-width="1.6"/>
<line x1="3.4" y1="438.4" x2="155.6" y2="438.4" stroke="#efefef" stroke-width="1.3"/>
<line x1="156.6" y1="438.9" x2="156.6" y2="547.4" stroke="#d8d8d8" stroke-width="1.6"/>
<line x1="2.4" y1="547.9" x2="155.8" y2="547.9" stroke="#a3a3a3" stroke-width="1.9"/>
<line x1="23.3" y1="455.5" x2="23.3" y2="534.8" stroke="#6a6a6a" stroke-width="1"/>
<line x1="20.7" y1="534.3" x2="23.3" y2="534.3" stroke="#6a6a6a" stroke-width="1"/>
<text transform="translate(19.7,536.75) scale(0.8696,1)" font-size="6.21" text-anchor="end">−1</text>
<line x1="20.7" y1="518.64" x2="23.3" y2="518.64" stroke="#6a6a6a" stroke-width="1"/>
<text transform="translate(19.7,521.09) scale(0.8696,1)" font-size="6.21" text-anchor="end">0</text>
<line x1="20.7" y1="502.98" x2="23.3" y2="502.98" stroke="#6a6a6a" stroke-width="1"/>
<text transform="translate(19.7,505.43) scale(0.8696,1)" font-size="6.21" text-anchor="end">1</text>
<line x1="20.7" y1="487.32" x2="23.3" y2="487.32" stroke="#6a6a6a" stroke-width="1"/>
<text transform="translate(19.7,489.77) scale(0.8696,1)" font-size="6.21" text-anchor="end">2</text>
<line x1="20.7" y1="471.66" x2="23.3" y2="471.66" stroke="#6a6a6a" stroke-width="1"/>
<text transform="translate(19.7,474.11) scale(0.8696,1)" font-size="6.21" text-anchor="end">3</text>
<line x1="20.7" y1="456" x2="23.3" y2="456" stroke="#6a6a6a" stroke-width="1"/>
<text transform="translate(19.7,458.45) scale(0.8696,1)" font-size="6.21" text-anchor="end">4</text>
<text transform="translate(10.4,494.75) rotate(-90) scale(0.8696,1)" font-size="6.73" text-anchor="middle">Log2FC</text>
<line x1="23.3" y1="534.5" x2="142" y2="534.5" stroke="#6a6a6a" stroke-width="1"/>
<rect x="27.6" y="518.64" width="7.2" height="0.31" fill="#161616"/>
<line x1="31.2" y1="513.79" x2="31.2" y2="524.12" stroke="#111" stroke-width="0.6"/>
<line x1="29.4" y1="524.12" x2="33" y2="524.12" stroke="#111" stroke-width="0.6"/>
<line x1="29.4" y1="513.79" x2="33" y2="513.79" stroke="#111" stroke-width="0.6"/>
<text x="31.2" y="510.69" font-size="3.7" text-anchor="middle" class="l">a</text>
<rect x="39.05" y="508.45" width="7.3" height="10.19" fill="#b2b2b2" stroke="#8c8c8c" stroke-width="0.6"/>
<line x1="42.7" y1="506.58" x2="42.7" y2="508.15" stroke="#222" stroke-width="0.6"/>
<line x1="40.9" y1="506.58" x2="44.5" y2="506.58" stroke="#222" stroke-width="0.6"/>
<text x="42.7" y="503.48" font-size="3.7" text-anchor="middle" class="l">ab</text>
<rect x="50.6" y="517.86" width="7.2" height="0.78" fill="#161616"/>
<line x1="54.2" y1="515.98" x2="54.2" y2="519.74" stroke="#111" stroke-width="0.6"/>
<line x1="52.4" y1="515.98" x2="56" y2="515.98" stroke="#111" stroke-width="0.6"/>
<line x1="52.4" y1="519.74" x2="56" y2="519.74" stroke="#111" stroke-width="0.6"/>
<text x="54.2" y="512.88" font-size="3.7" text-anchor="middle" class="l">a</text>
<rect x="62.05" y="507.82" width="7.3" height="10.82" fill="#b2b2b2" stroke="#8c8c8c" stroke-width="0.6"/>
<line x1="65.7" y1="505.96" x2="65.7" y2="507.52" stroke="#222" stroke-width="0.6"/>
<line x1="63.9" y1="505.96" x2="67.5" y2="505.96" stroke="#222" stroke-width="0.6"/>
<text x="65.7" y="502.86" font-size="3.7" text-anchor="middle" class="l">ab</text>
<rect x="73.6" y="479.18" width="7.2" height="39.46" fill="#161616"/>
<line x1="77.2" y1="478.08" x2="77.2" y2="479.18" stroke="#111" stroke-width="0.6"/>
<line x1="75.4" y1="478.08" x2="79" y2="478.08" stroke="#111" stroke-width="0.6"/>
<text x="77.2" y="474.98" font-size="3.7" text-anchor="middle" class="l">c</text>
<rect x="85.05" y="474" width="7.3" height="44.64" fill="#b2b2b2" stroke="#8c8c8c" stroke-width="0.6"/>
<line x1="88.7" y1="472.13" x2="88.7" y2="473.7" stroke="#222" stroke-width="0.6"/>
<line x1="86.9" y1="472.13" x2="90.5" y2="472.13" stroke="#222" stroke-width="0.6"/>
<text x="88.7" y="469.03" font-size="3.7" text-anchor="middle" class="l">c</text>
<rect x="96.6" y="484.19" width="7.2" height="34.45" fill="#161616"/>
<line x1="100.2" y1="482.94" x2="100.2" y2="484.19" stroke="#111" stroke-width="0.6"/>
<line x1="98.4" y1="482.94" x2="102" y2="482.94" stroke="#111" stroke-width="0.6"/>
<text x="100.2" y="479.84" font-size="3.7" text-anchor="middle" class="l">cd</text>
<rect x="108.05" y="472.27" width="7.3" height="46.37" fill="#b2b2b2" stroke="#8c8c8c" stroke-width="0.6"/>
<line x1="111.7" y1="470.41" x2="111.7" y2="471.97" stroke="#222" stroke-width="0.6"/>
<line x1="109.9" y1="470.41" x2="113.5" y2="470.41" stroke="#222" stroke-width="0.6"/>
<text x="111.7" y="467.31" font-size="3.7" text-anchor="middle" class="l">c</text>
<rect x="119.6" y="500" width="7.2" height="18.64" fill="#161616"/>
<line x1="123.2" y1="494.52" x2="123.2" y2="500" stroke="#111" stroke-width="0.6"/>
<line x1="121.4" y1="494.52" x2="125" y2="494.52" stroke="#111" stroke-width="0.6"/>
<text x="123.2" y="491.42" font-size="3.7" text-anchor="middle" class="l">b</text>
<rect x="131.05" y="495.76" width="7.3" height="22.88" fill="#b2b2b2" stroke="#8c8c8c" stroke-width="0.6"/>
<line x1="134.7" y1="494.68" x2="134.7" y2="495.46" stroke="#222" stroke-width="0.6"/>
<line x1="132.9" y1="494.68" x2="136.5" y2="494.68" stroke="#222" stroke-width="0.6"/>
<text x="134.7" y="491.58" font-size="3.7" text-anchor="middle" class="l">bd</text>
<line x1="23.3" y1="518.5" x2="142" y2="518.5" stroke="#6a6a6a" stroke-width="1"/>
<line x1="31.5" y1="538.2" x2="41.5" y2="538.2" stroke="#3a3a3a" stroke-width="0.75"/>
<text transform="translate(36.5,542.9) scale(0.8696,1)" font-size="5" text-anchor="middle">TN1</text>
<line x1="54.1" y1="538.2" x2="65.1" y2="538.2" stroke="#3a3a3a" stroke-width="0.75"/>
<text transform="translate(59.6,542.9) scale(0.8696,1)" font-size="5" text-anchor="middle">24SS</text>
<line x1="76.9" y1="538.2" x2="88.5" y2="538.2" stroke="#3a3a3a" stroke-width="0.75"/>
<text transform="translate(82.7,542.9) scale(0.8696,1)" font-size="5" text-anchor="middle">94RR</text>
<line x1="99.4" y1="538.2" x2="112.2" y2="538.2" stroke="#3a3a3a" stroke-width="0.75"/>
<text transform="translate(105.8,542.9) scale(0.8696,1)" font-size="5" text-anchor="middle">145RS</text>
<line x1="122.5" y1="538.2" x2="135.3" y2="538.2" stroke="#3a3a3a" stroke-width="0.75"/>
<text transform="translate(128.9,542.9) scale(0.8696,1)" font-size="5" text-anchor="middle">152SR</text>
<rect x="140.5" y="457.3" width="5.8" height="5.4" fill="#161616"/>
<rect x="140.5" y="464.1" width="5.8" height="5" fill="#b2b2b2"/>
<text x="148.5" y="461" font-size="3.2" class="g">As</text>
<text x="148.5" y="467.5" font-size="3.2" class="g">Cls</text>
<text transform="translate(63.65,446.1) scale(0.8696,1)" font-size="6.65" class="t">BPH Mucin-like</text>
<rect x="183.3" y="439.2" width="154.5" height="106.4" fill="#fff"/>
<line x1="183.3" y1="440.2" x2="183.3" y2="545.1" stroke="#e0e0e0" stroke-width="1.6"/>
<line x1="184.8" y1="439.2" x2="336.8" y2="439.2" stroke="#efefef" stroke-width="1.3"/>
<line x1="337.8" y1="439.7" x2="337.8" y2="545.1" stroke="#d8d8d8" stroke-width="1.6"/>
<line x1="183.8" y1="545.6" x2="337" y2="545.6" stroke="#a3a3a3" stroke-width="1.9"/>
<line x1="204.4" y1="456.9" x2="204.4" y2="532.9" stroke="#6a6a6a" stroke-width="1"/>
<line x1="201.8" y1="532.4" x2="204.4" y2="532.4" stroke="#6a6a6a" stroke-width="1"/>
<text transform="translate(200.8,534.85) scale(0.8696,1)" font-size="6.21" text-anchor="end">−1</text>
<line x1="201.8" y1="517.4" x2="204.4" y2="517.4" stroke="#6a6a6a" stroke-width="1"/>
<text transform="translate(200.8,519.85) scale(0.8696,1)" font-size="6.21" text-anchor="end">0</text>
<line x1="201.8" y1="502.4" x2="204.4" y2="502.4" stroke="#6a6a6a" stroke-width="1"/>
<text transform="translate(200.8,504.85) scale(0.8696,1)" font-size="6.21" text-anchor="end">1</text>
<line x1="201.8" y1="487.4" x2="204.4" y2="487.4" stroke="#6a6a6a" stroke-width="1"/>
<text transform="translate(200.8,489.85) scale(0.8696,1)" font-size="6.21" text-anchor="end">2</text>
<line x1="201.8" y1="472.4" x2="204.4" y2="472.4" stroke="#6a6a6a" stroke-width="1"/>
<text transform="translate(200.8,474.85) scale(0.8696,1)" font-size="6.21" text-anchor="end">3</text>
<line x1="201.8" y1="457.4" x2="204.4" y2="457.4" stroke="#6a6a6a" stroke-width="1"/>
<text transform="translate(200.8,459.85) scale(0.8696,1)" font-size="6.21" text-anchor="end">4</text>
<text transform="translate(192.3,494.5) rotate(-90) scale(0.8696,1)" font-size="6.27" text-anchor="middle">Log2FC</text>
<line x1="204.4" y1="532.5" x2="320.8" y2="532.5" stroke="#6a6a6a" stroke-width="1"/>
<rect x="208.55" y="517.4" width="7.2" height="0.01" fill="#161616"/>
<line x1="212.15" y1="513.2" x2="212.15" y2="521.6" stroke="#111" stroke-width="0.6"/>
<line x1="210.35" y1="513.2" x2="213.95" y2="513.2" stroke="#111" stroke-width="0.6"/>
<line x1="210.35" y1="521.6" x2="213.95" y2="521.6" stroke="#111" stroke-width="0.6"/>
<text x="212.15" y="510.1" font-size="3.7" text-anchor="middle" class="l">a</text>
<rect x="219.75" y="517.4" width="7.3" height="0.9" fill="#b2b2b2" stroke="#8c8c8c" stroke-width="0.6"/>
<line x1="223.4" y1="514.85" x2="223.4" y2="522.35" stroke="#222" stroke-width="0.6"/>
<line x1="221.6" y1="522.35" x2="225.2" y2="522.35" stroke="#222" stroke-width="0.6"/>
<line x1="221.6" y1="514.85" x2="225.2" y2="514.85" stroke="#222" stroke-width="0.6"/>
<text x="223.4" y="511.75" font-size="3.7" text-anchor="middle" class="l">a</text>
<rect x="231.05" y="501.65" width="7.2" height="15.75" fill="#161616"/>
<line x1="234.65" y1="498.65" x2="234.65" y2="501.65" stroke="#111" stroke-width="0.6"/>
<line x1="232.85" y1="498.65" x2="236.45" y2="498.65" stroke="#111" stroke-width="0.6"/>
<text x="234.65" y="495.55" font-size="3.7" text-anchor="middle" class="l">ab</text>
<rect x="242.25" y="517.4" width="7.3" height="0.45" fill="#b2b2b2" stroke="#8c8c8c" stroke-width="0.6"/>
<line x1="245.9" y1="511.4" x2="245.9" y2="524.9" stroke="#222" stroke-width="0.6"/>
<line x1="244.1" y1="524.9" x2="247.7" y2="524.9" stroke="#222" stroke-width="0.6"/>
<line x1="244.1" y1="511.4" x2="247.7" y2="511.4" stroke="#222" stroke-width="0.6"/>
<text x="245.9" y="508.3" font-size="3.7" text-anchor="middle" class="l">a</text>
<rect x="253.55" y="472.85" width="7.2" height="44.55" fill="#161616"/>
<line x1="257.15" y1="471.8" x2="257.15" y2="472.85" stroke="#111" stroke-width="0.6"/>
<line x1="255.35" y1="471.8" x2="258.95" y2="471.8" stroke="#111" stroke-width="0.6"/>
<text x="257.15" y="468.7" font-size="3.7" text-anchor="middle" class="l">cd</text>
<rect x="264.75" y="478.25" width="7.3" height="39.15" fill="#b2b2b2" stroke="#8c8c8c" stroke-width="0.6"/>
<line x1="268.4" y1="474.95" x2="268.4" y2="477.95" stroke="#222" stroke-width="0.6"/>
<line x1="266.6" y1="474.95" x2="270.2" y2="474.95" stroke="#222" stroke-width="0.6"/>
<text x="268.4" y="471.85" font-size="3.7" text-anchor="middle" class="l">cd</text>
<rect x="276.05" y="471.05" width="7.2" height="46.35" fill="#161616"/>
<line x1="279.65" y1="467.75" x2="279.65" y2="471.05" stroke="#111" stroke-width="0.6"/>
<line x1="277.85" y1="467.75" x2="281.45" y2="467.75" stroke="#111" stroke-width="0.6"/>
<text x="279.65" y="464.65" font-size="3.7" text-anchor="middle" class="l">cd</text>
<rect x="287.25" y="464.75" width="7.3" height="52.65" fill="#b2b2b2" stroke="#8c8c8c" stroke-width="0.6"/>
<line x1="290.9" y1="463.25" x2="290.9" y2="464.45" stroke="#222" stroke-width="0.6"/>
<line x1="289.1" y1="463.25" x2="292.7" y2="463.25" stroke="#222" stroke-width="0.6"/>
<text x="290.9" y="460.15" font-size="3.7" text-anchor="middle" class="l">c</text>
<rect x="298.55" y="482.9" width="7.2" height="34.5" fill="#161616"/>
<line x1="302.15" y1="481.4" x2="302.15" y2="482.9" stroke="#111" stroke-width="0.6"/>
<line x1="300.35" y1="481.4" x2="303.95" y2="481.4" stroke="#111" stroke-width="0.6"/>
<text x="302.15" y="478.3" font-size="3.7" text-anchor="middle" class="l">ae</text>
<rect x="309.75" y="485.9" width="7.3" height="31.5" fill="#b2b2b2" stroke="#8c8c8c" stroke-width="0.6"/>
<line x1="313.4" y1="483.8" x2="313.4" y2="485.6" stroke="#222" stroke-width="0.6"/>
<line x1="311.6" y1="483.8" x2="315.2" y2="483.8" stroke="#222" stroke-width="0.6"/>
<text x="313.4" y="480.7" font-size="3.7" text-anchor="middle" class="l">bde</text>
<line x1="204.4" y1="517.5" x2="320.8" y2="517.5" stroke="#6a6a6a" stroke-width="1"/>
<line x1="212.6" y1="536.2" x2="222.6" y2="536.2" stroke="#3a3a3a" stroke-width="0.75"/>
<text transform="translate(217.6,541.5) scale(0.8696,1)" font-size="5" text-anchor="middle">TN1</text>
<line x1="234.88" y1="536.2" x2="245.88" y2="536.2" stroke="#3a3a3a" stroke-width="0.75"/>
<text transform="translate(240.38,541.5) scale(0.8696,1)" font-size="5" text-anchor="middle">24SS</text>
<line x1="257.36" y1="536.2" x2="268.96" y2="536.2" stroke="#3a3a3a" stroke-width="0.75"/>
<text transform="translate(263.16,541.5) scale(0.8696,1)" font-size="5" text-anchor="middle">94RR</text>
<line x1="279.54" y1="536.2" x2="292.34" y2="536.2" stroke="#3a3a3a" stroke-width="0.75"/>
<text transform="translate(285.94,541.5) scale(0.8696,1)" font-size="5" text-anchor="middle">145RS</text>
<line x1="302.32" y1="536.2" x2="315.12" y2="536.2" stroke="#3a3a3a" stroke-width="0.75"/>
<text transform="translate(308.72,541.5) scale(0.8696,1)" font-size="5" text-anchor="middle">152SR</text>
<rect x="322" y="460.3" width="5.8" height="5.4" fill="#161616"/>
<rect x="322" y="467.1" width="5.8" height="5" fill="#b2b2b2"/>
<text x="330" y="464" font-size="3.2" class="g">As</text>
<text x="330" y="470.5" font-size="3.2" class="g">Cls</text>
<text transform="translate(240.55,448.8) scale(0.8696,1)" font-size="6.65" class="t">BPH Sugar Transporter</text>
</svg>
</body></html>
